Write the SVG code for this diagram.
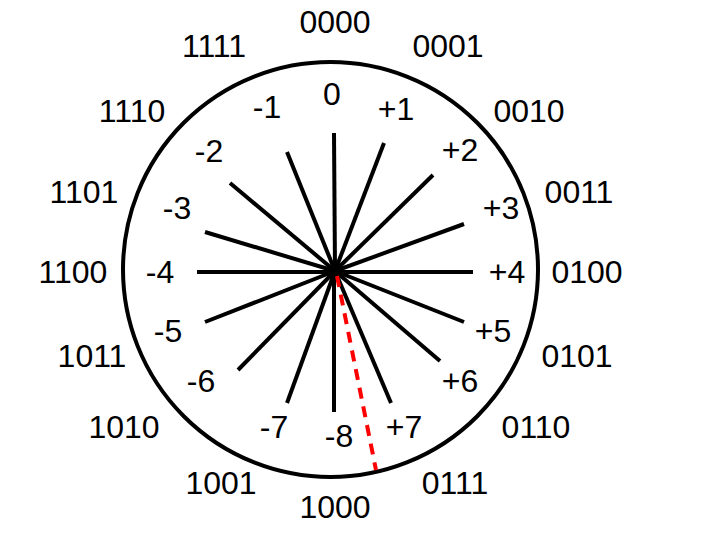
<svg xmlns="http://www.w3.org/2000/svg" width="703" height="538" viewBox="0 0 703 538">
<style>
  .lbl { font-family: "Liberation Sans", "DejaVu Sans", sans-serif; font-size: 32px; fill: #000; text-anchor: middle; }
  .spoke { stroke: #000; stroke-width: 4; stroke-linecap: butt; fill: none; }
</style>
<rect width="703" height="538" fill="#fff"/>
<g id="ring">
  <circle cx="330.5" cy="269.5" r="207.5" fill="none" stroke="#000" stroke-width="4"/>
</g>
<g id="connectors">
  <line class="spoke" x1="335" y1="271" x2="334" y2="133"/>
  <line class="spoke" x1="335" y1="271" x2="384" y2="143"/>
  <line class="spoke" x1="335" y1="271" x2="433" y2="175"/>
  <line class="spoke" x1="335" y1="271" x2="464" y2="224"/>
  <line class="spoke" x1="197" y1="272" x2="473" y2="272"/>
  <line class="spoke" x1="335" y1="271" x2="464" y2="322"/>
  <line class="spoke" x1="335" y1="271" x2="440" y2="361"/>
  <line class="spoke" x1="335" y1="271" x2="391" y2="403"/>
  <line class="spoke" x1="334" y1="271" x2="334" y2="412"/>
  <line class="spoke" x1="335" y1="271" x2="287" y2="403"/>
  <line class="spoke" x1="335" y1="271" x2="238" y2="370"/>
  <line class="spoke" x1="335" y1="271" x2="205" y2="322"/>
  <line class="spoke" x1="335" y1="271" x2="205" y2="232"/>
  <line class="spoke" x1="335" y1="271" x2="230" y2="183"/>
  <line class="spoke" x1="335" y1="271" x2="287" y2="152"/>
  <line x1="337" y1="276" x2="376" y2="470" stroke="#f00" stroke-width="4" stroke-dasharray="11 8"/>
</g>
<g id="inner-labels">
  <text class="lbl" x="332" y="105">0</text>
  <text class="lbl" x="396" y="120">+1</text>
  <text class="lbl" x="460" y="161">+2</text>
  <text class="lbl" x="501" y="219">+3</text>
  <text class="lbl" x="507" y="283">+4</text>
  <text class="lbl" x="493" y="342">+5</text>
  <text class="lbl" x="460" y="392">+6</text>
  <text class="lbl" x="404" y="438">+7</text>
  <text class="lbl" x="339" y="447">-8</text>
  <text class="lbl" x="274" y="438">-7</text>
  <text class="lbl" x="201" y="392">-6</text>
  <text class="lbl" x="168" y="342">-5</text>
  <text class="lbl" x="160" y="283">-4</text>
  <text class="lbl" x="177" y="219">-3</text>
  <text class="lbl" x="209" y="162">-2</text>
  <text class="lbl" x="267" y="118">-1</text>
</g>
<g id="outer-labels">
  <text class="lbl" x="335" y="33">0000</text>
  <text class="lbl" x="448" y="57">0001</text>
  <text class="lbl" x="529" y="122">0010</text>
  <text class="lbl" x="579" y="203">0011</text>
  <text class="lbl" x="587" y="283">0100</text>
  <text class="lbl" x="577" y="367">0101</text>
  <text class="lbl" x="536" y="438">0110</text>
  <text class="lbl" x="455" y="494">0111</text>
  <text class="lbl" x="335" y="518">1000</text>
  <text class="lbl" x="221" y="494">1001</text>
  <text class="lbl" x="124" y="438">1010</text>
  <text class="lbl" x="92" y="367">1011</text>
  <text class="lbl" x="73" y="283">1100</text>
  <text class="lbl" x="84" y="203">1101</text>
  <text class="lbl" x="132" y="122">1110</text>
  <text class="lbl" x="214" y="57">1111</text>
</g>
</svg>
